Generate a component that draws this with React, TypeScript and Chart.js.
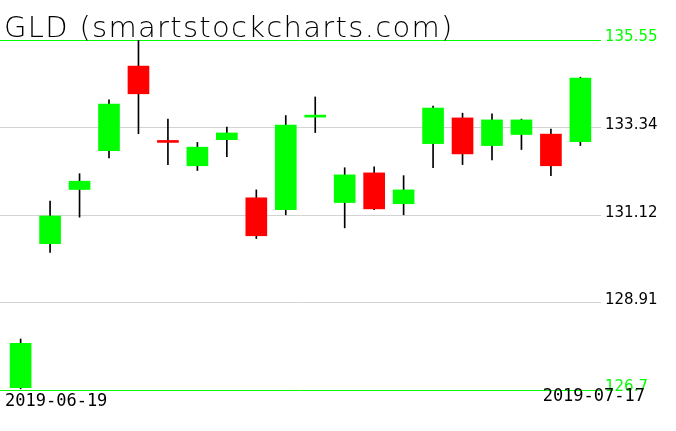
import { useEffect, useRef } from "react";
import { Chart, registerables } from "chart.js";

Chart.register(...registerables);

const title = "GLD (smartstockcharts.com)";
const dates = [
  "2019-06-19", "2019-06-20", "2019-06-21", "2019-06-24", "2019-06-25",
  "2019-06-26", "2019-06-27", "2019-06-28", "2019-07-01", "2019-07-02",
  "2019-07-03", "2019-07-05", "2019-07-08", "2019-07-09", "2019-07-10",
  "2019-07-11", "2019-07-12", "2019-07-15", "2019-07-16", "2019-07-17",
];
const opens = [126.76, 130.4, 131.77, 132.75, 134.89, 132.98, 132.37, 133.03, 131.56, 131.26, 133.6, 131.44, 132.19, 131.41, 132.93, 133.58, 132.88, 133.16, 133.17, 132.98];
const highs = [127.99, 131.48, 132.17, 134.04, 135.55, 133.55, 132.96, 133.35, 131.76, 133.64, 134.11, 132.32, 132.34, 132.12, 133.88, 133.7, 133.68, 133.55, 133.3, 134.61];
const lows = [126.73, 130.18, 131.07, 132.57, 133.18, 132.4, 132.25, 132.6, 130.53, 131.13, 133.21, 130.8, 131.26, 131.13, 132.32, 132.4, 132.52, 132.78, 132.12, 132.88];
const closes = [127.88, 131.1, 131.98, 133.93, 134.19, 132.96, 132.84, 133.2, 130.6, 133.4, 133.62, 132.14, 131.28, 131.76, 133.83, 132.67, 133.53, 133.53, 132.37, 134.59];
const yTicks = [126.7, 128.91, 131.12, 133.34, 135.55];

const GREEN = "#00ff00";
const RED = "#ff0000";

export default function App() {
  const ref = useRef<HTMLCanvasElement | null>(null);

  useEffect(() => {
    document.body.style.margin = "0";
    const canvas = ref.current;
    if (!canvas) return;
    const yMin = yTicks[0];
    const yMax = yTicks[yTicks.length - 1];
    const isEdge = (v: number) => v === yMin || v === yMax;

    const textPlugin = {
      id: "texts",
      afterDraw(chart: any) {
        const ctx = chart.ctx as CanvasRenderingContext2D;
        ctx.save();
        ctx.fillStyle = "#000";
        ctx.textBaseline = "alphabetic";
        ctx.font = '200 29px "DejaVu Sans"';
        (ctx as any).letterSpacing = "1.3px";
        ctx.textAlign = "left";
        ctx.fillText(title, 4, 37);
        (ctx as any).letterSpacing = "0px";
        ctx.font = '17px "DejaVu Sans Mono"';
        ctx.textAlign = "left";
        ctx.fillText(dates[0], 5, 406);
        ctx.textAlign = "right";
        ctx.fillText(dates[dates.length - 1], 645, 401);
        ctx.restore();
      },
    };

    const chart = new Chart(canvas, {
      type: "bar",
      data: {
        datasets: [
          {
            label: "body",
            data: dates.map((_, i) => ({ x: i, y: [opens[i], closes[i]] })) as any,
            backgroundColor: dates.map((_, i) => (closes[i] >= opens[i] ? GREEN : RED)),
            barThickness: 21,
            minBarLength: 2,
            borderWidth: 0,
            grouped: false,
            order: 1,
          },
          {
            label: "wick",
            data: dates.map((_, i) => ({ x: i, y: [lows[i], highs[i]] })) as any,
            backgroundColor: "#000",
            barThickness: 1,
            borderWidth: 0,
            grouped: false,
            order: 2,
          },
        ],
      },
      options: {
        responsive: false,
        animation: false,
        devicePixelRatio: 1,
        layout: { padding: { top: 40, bottom: 41, left: 0, right: 0 } },
        plugins: {
          legend: { display: false },
          tooltip: { enabled: false },
          title: { display: false },
        },
        scales: {
          x: {
            type: "linear",
            min: -0.7,
            max: dates.length - 1 + 0.7,
            display: false,
            offset: false,
            grid: { display: false },
          },
          y: {
            type: "linear",
            position: "right",
            min: yMin,
            max: yMax,
            afterBuildTicks: (scale: any) => {
              scale.ticks = yTicks.map((v) => ({ value: v }));
            },
            afterFit: (scale: any) => {
              scale.width = 75;
            },
            border: { display: false },
            grid: {
              drawTicks: false,
              lineWidth: 1,
              color: (ctx: any) => (isEdge(ctx.tick?.value) ? GREEN : "#d3d3d3"),
            },
            ticks: {
              padding: 4,
              font: { family: '"DejaVu Sans"', size: 15, lineHeight: "5px" },
              color: (ctx: any) => (isEdge(ctx.tick?.value) ? GREEN : "#000"),
              callback: (v: any) => [String(v), ""],
            },
          },
        },
      },
      plugins: [textPlugin],
    });
    return () => chart.destroy();
  }, []);

  return (
    <canvas
      ref={ref}
      width={676}
      height={431}
      style={{ position: "absolute", left: 0, top: 0, background: "#fff" }}
    />
  );
}
